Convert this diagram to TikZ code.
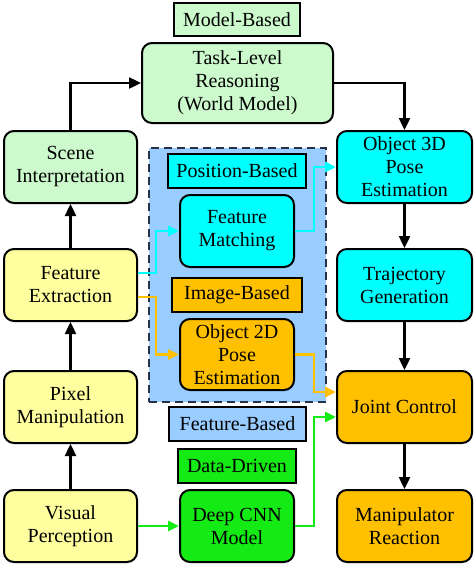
\documentclass[tikz,border=0pt]{standalone}
\usepackage{fontspec}
\setmainfont{Liberation Serif}
\usetikzlibrary{arrows.meta,calc}
\definecolor{lgreen}{RGB}{204,250,204}
\definecolor{lcyan}{RGB}{0,255,255}
\definecolor{lyellow}{RGB}{255,255,160}
\definecolor{lorange}{RGB}{255,192,0}
\definecolor{lgr}{RGB}{20,235,20}
\definecolor{lblue}{RGB}{153,204,255}
\definecolor{dashc}{RGB}{40,50,70}
\tikzset{
  box/.style={draw=black,line width=2pt,rounded corners=10pt,align=center,inner sep=0pt,
    minimum height=72pt,font=\fontsize{20}{23}\selectfont},
  lbl/.style={draw=black,line width=1.4pt,align=center,inner sep=0pt,minimum height=34pt,
    font=\fontsize{20}{23}\selectfont},
  blk/.style={draw=black,line width=2.4pt,-{Triangle[length=12pt,width=11pt]}},
  col/.style={line width=2.8pt,-{Triangle[length=11pt,width=10pt]}},
}
\begin{document}
\begin{tikzpicture}[x=1pt,y=-1pt]
\useasboundingbox (0,0) rectangle (474,568);
% region
\node[draw=dashc,fill=lblue,dash pattern=on 8pt off 5pt,line width=1.4pt,minimum width=177pt,minimum height=254pt,inner sep=0pt] (region) at (237.5,275) {};
% left column
\node[box,fill=lgreen,minimum width=133pt] (scene) at (70.5,167) {Scene\\Interpretation};
\node[box,fill=lyellow,minimum width=133pt] (fe) at (70.5,285) {Feature\\Extraction};
\node[box,fill=lyellow,minimum width=133pt] (pm) at (70.5,407) {Pixel\\Manipulation};
\node[box,fill=lyellow,minimum width=133pt] (vp) at (70.5,526) {Visual\\Perception};
% center column
\node[lbl,fill=lgreen,minimum width=126pt,minimum height=33pt] (mb) at (237,19.5) {Model-Based};
\node[box,fill=lgreen,minimum width=191pt,minimum height=80pt] (task) at (237.5,83) {Task-Level\\Reasoning\\(World Model)};
\node[lbl,fill=lcyan,minimum width=138pt] (pb) at (237,171) {Position-Based};
\node[box,fill=lcyan,minimum width=114pt] (fm) at (237,231) {Feature\\Matching};
\node[lbl,fill=lorange,minimum width=130pt] (ib) at (237,295) {Image-Based};
\node[box,fill=lorange,minimum width=114pt,minimum height=71pt] (p2d) at (237,354.5) {Object 2D\\Pose\\Estimation};
\node[lbl,fill=lblue,minimum width=137pt] (fb) at (237.5,424) {Feature-Based};
\node[lbl,fill=lgr,minimum width=118pt] (dd) at (237,466) {Data-Driven};
\node[box,fill=lgr,minimum width=114pt] (cnn) at (237,526) {Deep CNN\\Model};
% right column
\node[box,fill=lcyan,minimum width=135pt] (o3d) at (404.5,167) {Object 3D\\Pose\\Estimation};
\node[box,fill=lcyan,minimum width=135pt] (tg) at (404.5,285) {Trajectory\\Generation};
\node[box,fill=lorange,minimum width=135pt] (jc) at (404.5,407) {Joint Control};
\node[box,fill=lorange,minimum width=135pt] (mr) at (404.5,526) {Manipulator\\Reaction};
% black connectors
\draw[blk] (vp.north) -- (pm.south);
\draw[blk] (pm.north) -- (fe.south);
\draw[blk] (fe.north) -- (scene.south);
\draw[blk] (scene.north) |- (task.west);
\draw[blk] (task.east) -| (o3d.north);
\draw[blk] (o3d.south) -- (tg.north);
\draw[blk] (tg.south) -- (jc.north);
\draw[blk] (jc.south) -- (mr.north);
% colored connectors
\draw[col,draw=lcyan] ($(fe.east)+(0,-12)$) -- ++(18,0) |- (fm.west);
\draw[col,draw=lcyan] (fm.east) -- ++(19,0) |- (o3d.west);
\draw[col,draw=lorange] ($(fe.east)+(0,12)$) -- ++(18,0) |- (p2d.west);
\draw[col,draw=lorange] (p2d.east) -- ++(19,0) |- ($(jc.west)+(0,-15)$);
\draw[col,draw=lgr] (vp.east) -- (cnn.west);
\draw[col,draw=lgr] (cnn.east) -- ++(19,0) |- ($(jc.west)+(0,10)$);
\end{tikzpicture}
\end{document}
